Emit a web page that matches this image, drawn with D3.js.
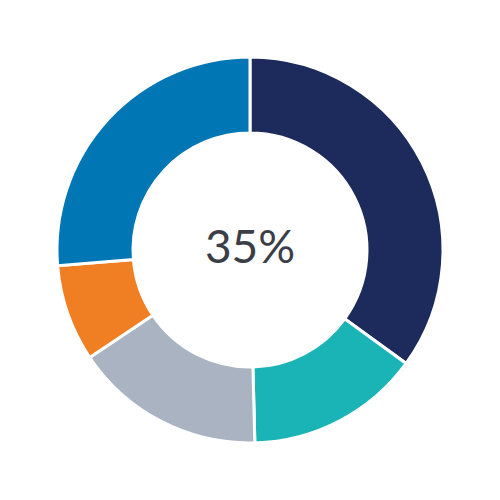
<!doctype html>
<html>
<head>
    <script src="https://d3js.org/d3.v7.min.js"></script>
    <style>
        body { margin: 0; background: #fff; }
    </style>
</head>
<body>
    <svg id="donut" width="500" height="500"></svg>
    <script>
        // Slice values (percent), clockwise from 12 o'clock
        const categories = ["A", "B", "C", "D", "E"];
        const values = [35, 14.6, 16, 8.1, 26.3];
        const colors = ["#1c2b5b", "#1bb4b6", "#a9b3c2", "#f07e22", "#0176b4"];
        const centerLabel = "35%";

        const width = 500;
        const height = 500;
        const outerRadius = 193;
        const innerRadius = 117;

        const svg = d3.select("#donut")
          .append("g")
          .attr("transform", `translate(${width / 2},${height / 2})`);

        const color = d3.scaleOrdinal()
          .domain(categories)
          .range(colors);

        const pie = d3.pie()
          .sort(null)
          .value(d => d.value);

        const arc = d3.arc()
          .innerRadius(innerRadius)
          .outerRadius(outerRadius);

        const data = categories.map((c, i) => ({ name: c, value: values[i] }));

        svg.selectAll("path")
          .data(pie(data))
          .join("path")
          .attr("d", arc)
          .attr("fill", d => color(d.data.name))
          .attr("stroke", "#fff")
          .attr("stroke-width", 3);

        // center label
        svg.append("text")
          .attr("text-anchor", "middle")
          .attr("y", 13)
          .attr("font-family", "Lato, sans-serif")
          .attr("font-size", 46)
          .attr("fill", "#3b3e46")
          .text(centerLabel);
    </script>
</body>
</html>
